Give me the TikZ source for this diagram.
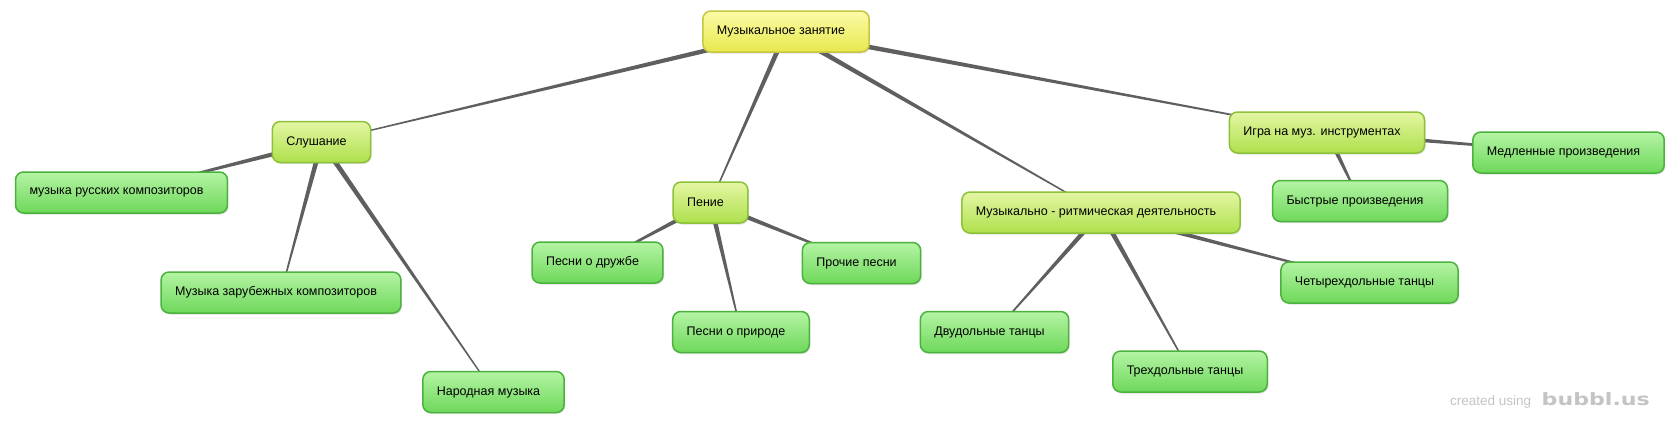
\documentclass[tikz,border=0pt]{standalone}
\usepackage{fontspec}
\setmainfont{Liberation Sans}
\newfontfamily\brandfont{DejaVu Sans}
\usetikzlibrary{positioning,shadows,backgrounds,calc}

\definecolor{linkgray}{HTML}{5F5F5F}
\definecolor{topictop}{HTML}{FBFBA8}
\definecolor{topicbot}{HTML}{E8E84E}
\definecolor{topicedge}{HTML}{C6C642}
\definecolor{branchtop}{HTML}{E4F6A4}
\definecolor{branchbot}{HTML}{AEE04C}
\definecolor{branchedge}{HTML}{8CC23A}
\definecolor{leaftop}{HTML}{B4F4A4}
\definecolor{leafbot}{HTML}{6ED85A}
\definecolor{leafedge}{HTML}{4CB23E}
\definecolor{creditgray}{HTML}{C4C4C4}

% tapered link: thick at the parent, thin at the child
\newcommand{\taper}[2]{\fill[linkgray] ($(#1)!2.6pt!90:(#2)$) -- ($(#2)!0.5pt!-90:(#1)$) -- ($(#2)!0.5pt!90:(#1)$) -- ($(#1)!2.6pt!-90:(#2)$) -- cycle;}

\tikzset{
	box/.style={rounded corners=8pt, line width=1.5pt, minimum height=41pt, inner xsep=14pt,
		font=\fontsize{12.5}{15}\selectfont, execute at end node={\hspace*{10pt}},
		drop shadow={shadow xshift=1pt, shadow yshift=-1.5pt, opacity=0.25}},
	topic/.style={box, draw=topicedge, top color=topictop, bottom color=topicbot},
	branch/.style={box, draw=branchedge, top color=branchtop, bottom color=branchbot},
	leaf/.style={box, draw=leafedge, top color=leaftop, bottom color=leafbot},
	credit/.style={text=creditgray, inner sep=0pt, font=\fontsize{13.5}{16}\selectfont}
}

\begin{document}
\begin{tikzpicture}[x=1pt,y=1pt]
			\useasboundingbox (0,0) rectangle (1672,-424);
			% root
			\node[topic] (lesson) at (786,-31.5) {Музыкальное занятие};
			% listening
			\node[branch] (listen) at (321.5,-142) {Слушание};
			\node[leaf] (russian) at (121.5,-192.5) {музыка русских композиторов};
			\node[leaf] (foreign) at (281,-292.5) {Музыка зарубежных композиторов};
			\node[leaf] (folk) at (493.5,-392) {Народная музыка};
			% singing
			\node[branch] (sing) at (710.5,-202.5) {Пение};
			\node[leaf] (friend) at (597.5,-262.5) {Песни о дружбе};
			\node[leaf] (nature) at (741,-332) {Песни о природе};
			\node[leaf] (other) at (861.5,-263) {Прочие песни};
			% rhythm
			\node[branch] (rhythm) at (1101,-212.5) {Музыкально - ритмическая деятельность};
			\node[leaf] (two) at (994.5,-332) {Двудольные танцы};
			\node[leaf] (three) at (1190,-371.5) {Трехдольные танцы};
			\node[leaf] (four) at (1369.5,-282.5) {Четырехдольные танцы};
			% instruments
			\node[branch] (play) at (1327,-132.5) {Игра на муз. инструментах};
			\node[leaf] (slow) at (1568.5,-152.5) {Медленные произведения};
			\node[leaf] (fast) at (1360,-201) {Быстрые произведения};
			% links
			\begin{scope}[on background layer]
				\fill[white] (0,0) rectangle (1672,-424);
				\taper{lesson}{listen}
				\taper{lesson}{sing}
				\taper{lesson}{rhythm}
				\taper{lesson}{play}
				\taper{listen}{russian}
				\taper{listen}{foreign}
				\taper{listen}{folk}
				\taper{sing}{friend}
				\taper{sing}{nature}
				\taper{sing}{other}
				\taper{rhythm}{two}
				\taper{rhythm}{three}
				\taper{rhythm}{four}
				\taper{play}{slow}
				\taper{play}{fast}
			\end{scope}
			% watermark
			\node[credit, anchor=base west] (made) at (1450,-405) {created using};
			\node[credit, font=\fontsize{17}{20}\brandfont\bfseries, xscale=1.3, base right=10pt of made] (brand) {bubbl.us};
\end{tikzpicture}
\end{document}
